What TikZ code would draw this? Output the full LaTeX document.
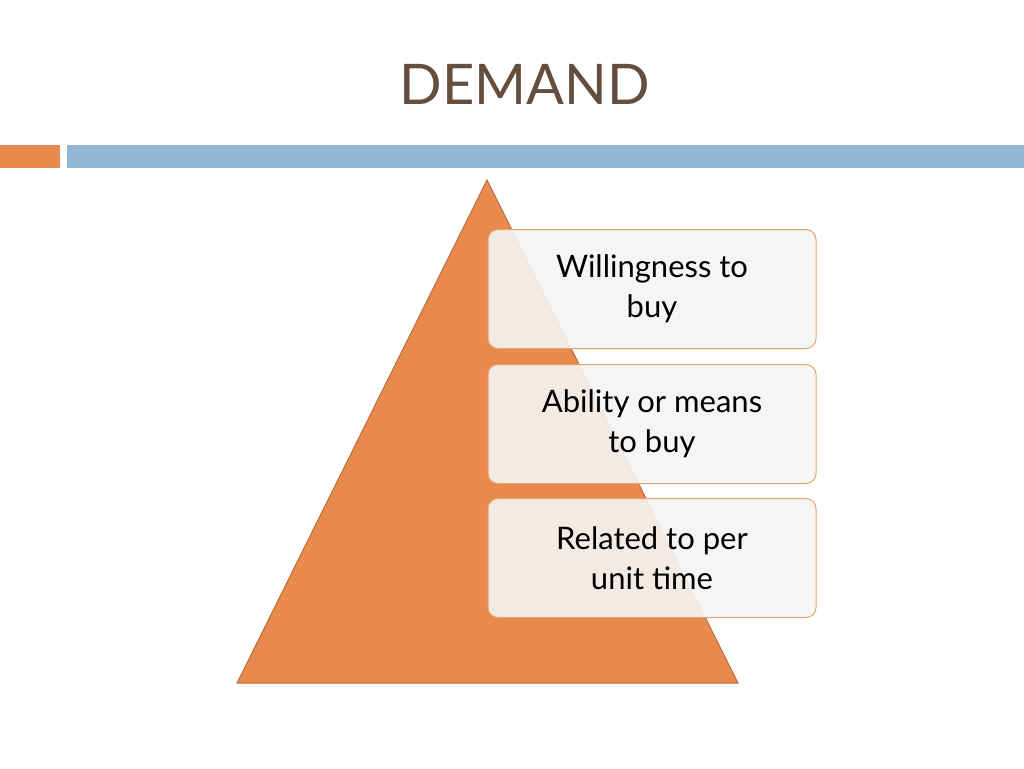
\documentclass[tikz,border=0pt]{standalone}
\usepackage{fontspec}
\setmainfont{Lato}
\begin{document}
\begin{tikzpicture}[x=1pt,y=-1pt,
  boxst/.style={draw=brown!60!orange!70, line width=1pt, rounded corners=10pt, fill=white!92!gray, fill opacity=0.9, text opacity=1, minimum width=328pt, minimum height=119pt, align=center, font=\fontsize{31}{40}\selectfont, text=black}]
\definecolor{tri}{RGB}{232,137,78}
\definecolor{bar}{RGB}{147,182,212}
\definecolor{ttl}{RGB}{100,78,62}
\useasboundingbox (0,0) rectangle (1024,768);
\fill[white] (0,0) rectangle (1024,768);
\node[text=ttl, font=\fontsize{56}{60}\selectfont] (title) at (525,84) {DEMAND};
\fill[tri] (0,145) rectangle (60,168);
\fill[bar] (67,145) rectangle (1024,168);
\filldraw[fill=tri, draw=tri!80!black, line width=1pt] (487,180) -- (738,683) -- (237,683) -- cycle;
\node[boxst] (b1) at (652,289) {Willingness to\\buy};
\node[boxst] (b2) at (652,424) {Ability or means\\to buy};
\node[boxst] (b3) at (652,558) {Related to per\\unit time};
\end{tikzpicture}
\end{document}
